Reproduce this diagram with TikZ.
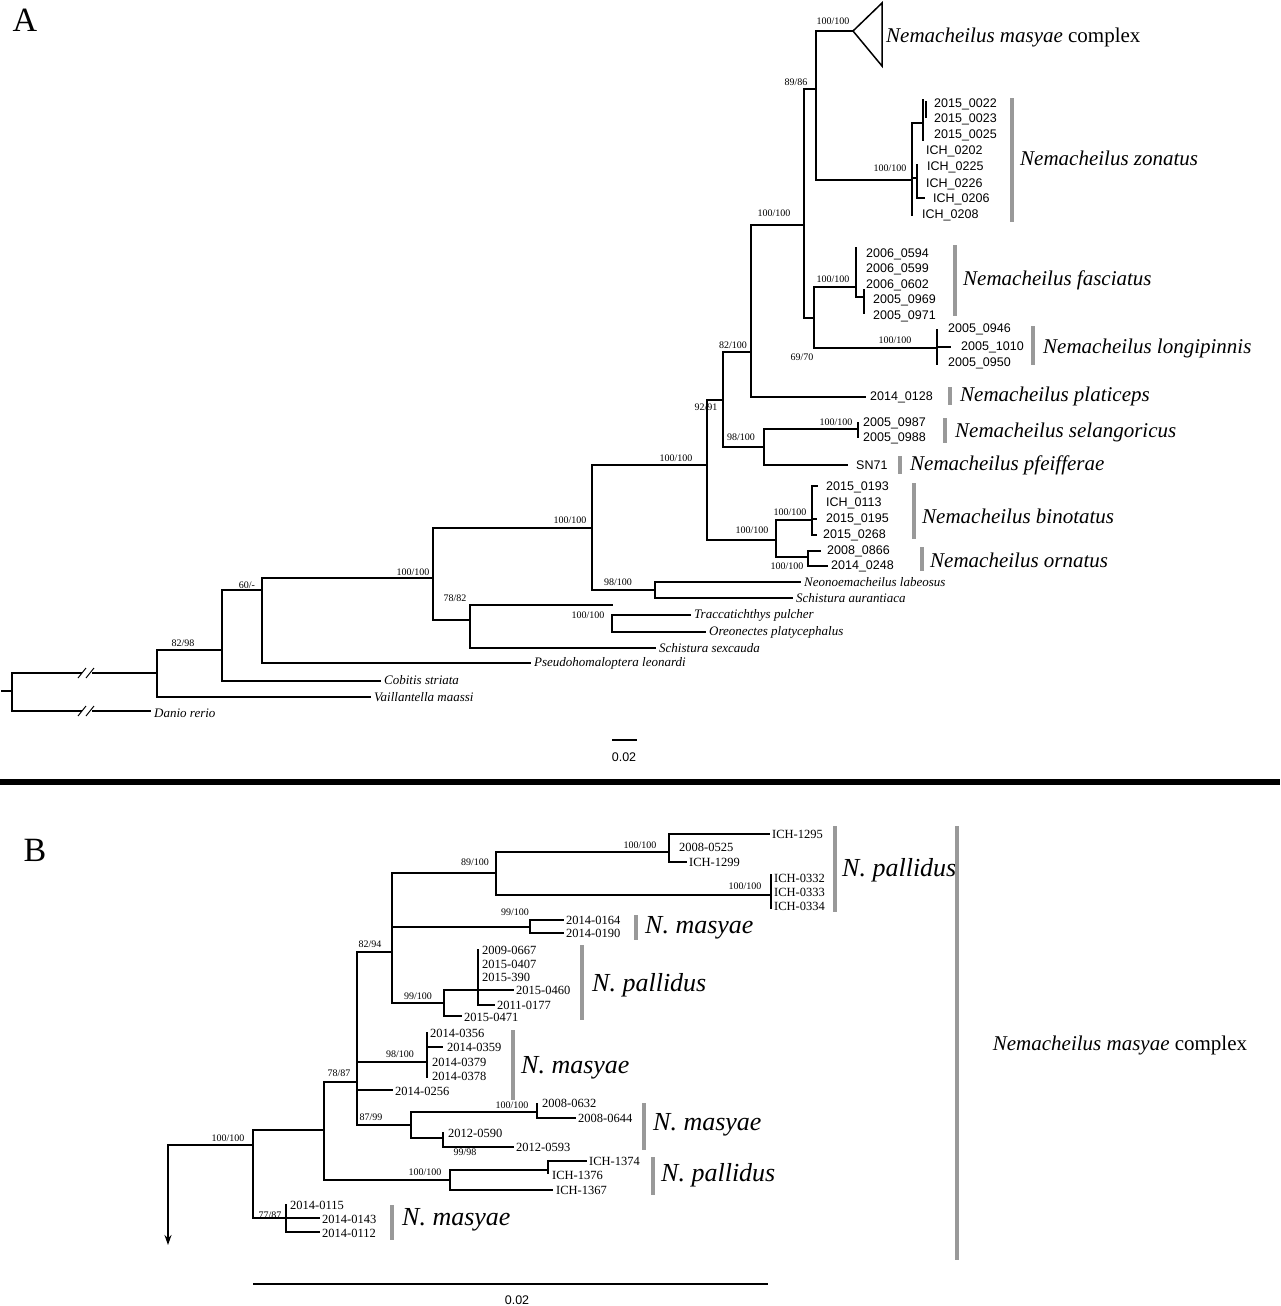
\documentclass[tikz,border=0pt]{standalone}
\usepackage{fontspec}
\usetikzlibrary{arrows.meta}
\setmainfont{Liberation Serif}
\setsansfont{Liberation Sans}
\begin{document}
\begin{tikzpicture}[x=1pt,y=-1pt,
  br/.style={line width=1.5pt,line cap=rect},
  bar/.style={line width=4pt,draw=gray!80},
  lf/.style={anchor=west,font=\sffamily\fontsize{12.5}{12}\selectfont,inner sep=1pt},
  lb/.style={anchor=west,font=\fontsize{12.5}{12}\selectfont,inner sep=1pt},
  og/.style={anchor=west,font=\itshape\fontsize{13}{12}\selectfont,inner sep=1pt},
  sp/.style={font=\fontsize{10}{10}\selectfont,inner sep=0pt},
  cl/.style={anchor=west,font=\itshape\fontsize{21}{21}\selectfont,inner sep=0pt},
  cb/.style={anchor=west,font=\itshape\fontsize{26}{26}\selectfont,inner sep=0pt}]
\newcommand\hb[3]{\draw[br] (#1,#3) -- (#2,#3);}
\newcommand\vb[3]{\draw[br] (#1,#2) -- (#1,#3);}
\useasboundingbox (0,0) rectangle (1280,1306);
% ---------- Panel A ----------
\node[font=\fontsize{34}{34}\selectfont] (lA) at (25,20) {A};
\hb{2}{12}{691}\vb{12}{673}{711}\hb{12}{157}{673}\hb{12}{150}{711}
\foreach \yy in {673,711}{\fill[white] (82,\yy-4) rectangle (92,\yy+4);
 \draw[line width=1pt] (78,\yy+5)--(86,\yy-5); \draw[line width=1pt] (86,\yy+5)--(94,\yy-5);}
\vb{157}{650}{697}\hb{157}{222}{650}\hb{157}{370}{697}
\vb{222}{590}{681}\hb{222}{262}{590}\hb{222}{380}{681}
\vb{262}{578}{663}\hb{262}{433}{578}\hb{262}{530}{663}
\vb{433}{528}{620}\hb{433}{592}{528}\hb{433}{470}{620}
\vb{470}{605}{648}\hb{470}{612}{605}\hb{470}{655}{648}
\vb{612}{615}{632}\hb{612}{690}{615}\hb{612}{705}{632}
\vb{592}{465}{590}\hb{592}{707}{465}\hb{592}{655}{590}
\vb{655}{582}{598}\hb{655}{800}{582}\hb{655}{792}{598}
\vb{707}{400}{540}\hb{707}{723}{400}\hb{707}{776}{540}
\vb{776}{520}{557}\hb{776}{812}{520}\hb{776}{808}{557}
\vb{812}{486}{535}\hb{812}{817}{486}\hb{812}{816}{519}\hb{812}{816}{535}
\vb{808}{551}{566}\hb{808}{820}{551}\hb{808}{827}{566}
\vb{723}{352}{447}\hb{723}{751}{352}\hb{723}{764}{447}
\vb{764}{429}{465}\hb{764}{858}{429}\hb{764}{847}{465}
\vb{858}{423}{437}
\vb{751}{225}{397}\hb{751}{804}{225}\hb{751}{865}{397}
\vb{804}{89}{318}\hb{804}{816}{89}\hb{804}{814}{318}
\vb{816}{31}{180}\hb{816}{853}{31}\hb{816}{912}{180}
\draw[br] (853,31)--(882,3)--(882,66)--cycle;
\vb{912}{123}{215}\hb{912}{923}{123}\vb{923}{100}{140}\vb{926}{102}{117}
\hb{912}{917}{178}\vb{917}{165}{198}\hb{917}{924}{198}
\vb{814}{287}{348}\hb{814}{856}{287}\vb{856}{248}{297}\hb{856}{864}{297}\vb{864}{290}{313}
\hb{814}{937}{348}\vb{937}{330}{364}\hb{937}{950}{347}
% supports A
\node[sp] (s1) at (833,21) {100/100};
\node[sp] (s2) at (796,82) {89/86};
\node[sp] (s3) at (890,168) {100/100};
\node[sp] (s4) at (774,213) {100/100};
\node[sp] (s5) at (833,279) {100/100};
\node[sp] (s6) at (802,357) {69/70};
\node[sp] (s7) at (895,340) {100/100};
\node[sp] (s8) at (733,345) {82/100};
\node[sp] (s9) at (706,407) {92/91};
\node[sp] (s10) at (741,437) {98/100};
\node[sp] (s11) at (836,422) {100/100};
\node[sp] (s12) at (676,458) {100/100};
\node[sp] (s13) at (790,512) {100/100};
\node[sp] (s14) at (752,530) {100/100};
\node[sp] (s15) at (787,566) {100/100};
\node[sp] (s16) at (618,582) {98/100};
\node[sp] (s17) at (570,520) {100/100};
\node[sp] (s18) at (413,572) {100/100};
\node[sp] (s19) at (247,585) {60/-};
\node[sp] (s20) at (183,643) {82/98};
\node[sp] (s21) at (455,598) {78/82};
\node[sp] (s22) at (588,615) {100/100};
% leaves A
\node[lf] at (933,104) {2015\_0022};
\node[lf] at (933,119) {2015\_0023};
\node[lf] at (933,135) {2015\_0025};
\node[lf] at (925,151) {ICH\_0202};
\node[lf] at (926,167) {ICH\_0225};
\node[lf] at (925,184) {ICH\_0226};
\node[lf] at (932,199) {ICH\_0206};
\node[lf] at (921,215) {ICH\_0208};
\node[lf] at (865,254) {2006\_0594};
\node[lf] at (865,269) {2006\_0599};
\node[lf] at (865,285) {2006\_0602};
\node[lf] at (872,300) {2005\_0969};
\node[lf] at (872,316) {2005\_0971};
\node[lf] at (947,329) {2005\_0946};
\node[lf] at (960,347) {2005\_1010};
\node[lf] at (947,363) {2005\_0950};
\node[lf] at (869,397) {2014\_0128};
\node[lf] at (862,423) {2005\_0987};
\node[lf] at (862,438) {2005\_0988};
\node[lf] at (855,465) {SN71};
\node[lf] at (825,487) {2015\_0193};
\node[lf] at (825,503) {ICH\_0113};
\node[lf] at (825,519) {2015\_0195};
\node[lf] at (822,535) {2015\_0268};
\node[lf] at (826,551) {2008\_0866};
\node[lf] at (830,566) {2014\_0248};
\node[og] at (803,582) {Neonoemacheilus labeosus};
\node[og] at (795,598) {Schistura aurantiaca};
\node[og] at (693,615) {Traccatichthys pulcher};
\node[og] at (708,632) {Oreonectes platycephalus};
\node[og] at (658,648) {Schistura sexcauda};
\node[og] at (533,663) {Pseudohomaloptera leonardi};
\node[og] at (383,680) {Cobitis striata};
\node[og] at (373,697) {Vaillantella maassi};
\node[og] at (153,713) {Danio rerio};
% clade bars A
\draw[bar] (1012,98)--(1012,222); \node[cl] at (1020,158) {Nemacheilus zonatus};
\draw[bar] (955,245)--(955,316); \node[cl] at (963,280) {Nemacheilus fasciatus};
\draw[bar] (1033,326)--(1033,365); \node[cl] at (1043,348) {Nemacheilus longipinnis};
\draw[bar] (950,387)--(950,405); \node[cl] at (960,396) {Nemacheilus platiceps};
\draw[bar] (945,418)--(945,443); \node[cl] at (955,432) {Nemacheilus selangoricus};
\draw[bar] (900,456)--(900,474); \node[cl] at (910,465) {Nemacheilus pfeifferae};
\draw[bar] (914,483)--(914,539); \node[cl] at (922,516) {Nemacheilus binotatus};
\draw[bar] (922,547)--(922,571); \node[cl] at (930,560) {Nemacheilus ornatus};
\node[cl] at (886,37) {Nemacheilus masyae \upshape complex};
\draw[line width=1.5pt] (612,740)--(637,740);
\node[font=\sffamily\fontsize{12.5}{12}\selectfont] at (624,757) {0.02};
\fill (0,779) rectangle (1280,785);
% ---------- Panel B ----------
\node[font=\fontsize{34}{34}\selectfont] (lB) at (35,850) {B};
\draw[br,-{Stealth[length=10pt,width=7pt]}] (253,1145) -| (168,1245);
\vb{253}{1130}{1218}\hb{253}{324}{1130}\hb{253}{286}{1218}
\vb{286}{1205}{1232}\hb{286}{319}{1218}\hb{286}{319}{1232}
\vb{324}{1082}{1180}\hb{324}{357}{1082}\hb{324}{450}{1180}
\vb{450}{1170}{1190}\hb{450}{548}{1170}\hb{450}{552}{1190}
\vb{548}{1161}{1173}\hb{548}{586}{1161}
\vb{357}{952}{1125}\hb{357}{392}{952}\hb{357}{427}{1062}\hb{357}{392}{1090}\hb{357}{411}{1125}
\vb{392}{873}{1003}\hb{392}{496}{873}\hb{392}{530}{927}\hb{392}{444}{1003}
\vb{496}{852}{895}\hb{496}{669}{852}\hb{496}{771}{895}
\vb{669}{834}{862}\hb{669}{769}{834}\hb{669}{686}{862}
\vb{771}{875}{908}
\vb{530}{920}{933}\hb{530}{563}{920}\hb{530}{563}{933}
\vb{444}{990}{1016}\hb{444}{478}{990}\hb{444}{461}{1016}
\vb{478}{950}{1005}\hb{478}{513}{990}\hb{478}{494}{1005}
\vb{427}{1033}{1077}\hb{427}{442}{1047}
\vb{411}{1112}{1138}\hb{411}{537}{1112}\hb{411}{443}{1138}
\vb{537}{1104}{1118}\hb{537}{575}{1118}
\vb{443}{1133}{1147}\hb{443}{513}{1147}
% supports B
\node[sp] at (228,1138) {100/100};
\node[sp] at (270,1215) {77/87};
\node[sp] at (339,1073) {78/87};
\node[sp] at (425,1172) {100/100};
\node[sp] at (475,862) {89/100};
\node[sp] at (640,845) {100/100};
\node[sp] at (745,886) {100/100};
\node[sp] at (515,912) {99/100};
\node[sp] at (370,944) {82/94};
\node[sp] at (418,996) {99/100};
\node[sp] at (400,1054) {98/100};
\node[sp] at (512,1105) {100/100};
\node[sp] at (371,1117) {87/99};
\node[sp] at (465,1152) {99/98};
% leaves B
\node[lb] at (771,834) {ICH-1295};
\node[lb] at (678,847) {2008-0525};
\node[lb] at (688,862) {ICH-1299};
\node[lb] at (773,878) {ICH-0332};
\node[lb] at (773,892) {ICH-0333};
\node[lb] at (773,906) {ICH-0334};
\node[lb] at (565,920) {2014-0164};
\node[lb] at (565,933) {2014-0190};
\node[lb] at (481,950) {2009-0667};
\node[lb] at (481,964) {2015-0407};
\node[lb] at (481,977) {2015-390};
\node[lb] at (515,990) {2015-0460};
\node[lb] at (496,1005) {2011-0177};
\node[lb] at (463,1017) {2015-0471};
\node[lb] at (429,1033) {2014-0356};
\node[lb] at (446,1047) {2014-0359};
\node[lb] at (431,1062) {2014-0379};
\node[lb] at (431,1076) {2014-0378};
\node[lb] at (394,1091) {2014-0256};
\node[lb] at (541,1103) {2008-0632};
\node[lb] at (577,1118) {2008-0644};
\node[lb] at (447,1133) {2012-0590};
\node[lb] at (515,1147) {2012-0593};
\node[lb] at (588,1161) {ICH-1374};
\node[lb] at (551,1175) {ICH-1376};
\node[lb] at (555,1190) {ICH-1367};
\node[lb] at (289,1205) {2014-0115};
\node[lb] at (321,1219) {2014-0143};
\node[lb] at (321,1233) {2014-0112};
% clade bars B
\draw[bar] (835,826)--(835,912); \node[cb] at (842,870) {N. pallidus};
\draw[bar] (636,915)--(636,940); \node[cb] at (645,928) {N. masyae};
\draw[bar] (582,945)--(582,1020); \node[cb] at (592,985) {N. pallidus};
\draw[bar] (513,1030)--(513,1100); \node[cb] at (521,1068) {N. masyae};
\draw[bar] (644,1103)--(644,1150); \node[cb] at (653,1125) {N. masyae};
\draw[bar] (653,1157)--(653,1195); \node[cb] at (661,1175) {N. pallidus};
\draw[bar] (392,1205)--(392,1240); \node[cb] at (402,1220) {N. masyae};
\draw[bar] (957,826)--(957,1260);
\node[font=\fontsize{21}{21}\selectfont] at (1120,1045) {\itshape Nemacheilus masyae\upshape{} complex};
\draw[line width=1.2pt] (253,1284)--(768,1284);
\node[font=\sffamily\fontsize{12.5}{12}\selectfont] at (517,1300) {0.02};
\end{tikzpicture}
\end{document}
